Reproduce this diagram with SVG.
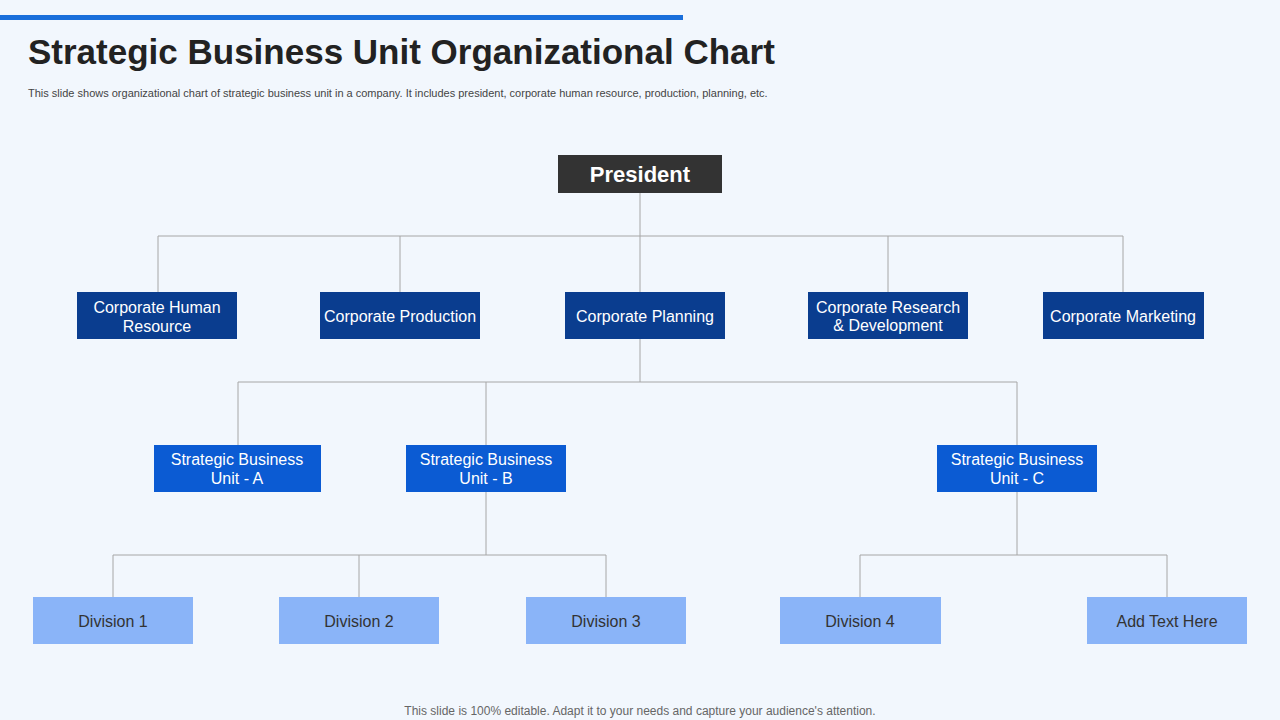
<svg xmlns="http://www.w3.org/2000/svg" width="1280" height="720" viewBox="0 0 1280 720">
<style>
.t{font-family:"Liberation Sans",Arial,sans-serif;text-anchor:middle}
.w{fill:#fff;font-size:16px}
.d{fill:#333;font-size:16px}
.c{fill:none;stroke:#a6a6a6;stroke-width:1}
</style>
<rect width="1280" height="720" fill="#f2f7fd"/>
<rect x="0" y="15" width="683" height="5" fill="#1a6fdb"/>
<text x="28" y="64" font-family="'Liberation Sans',Arial,sans-serif" font-weight="bold" font-size="35" fill="#222">Strategic Business Unit Organizational Chart</text>
<text x="28" y="97" font-family="'Liberation Sans',Arial,sans-serif" font-size="11" fill="#444">This slide shows organizational chart of strategic business unit in a company. It includes president, corporate human resource, production, planning, etc.</text>
<g id="connectors" class="c">
<path d="M640 193V292M158 292V236H1123V292M400 236V292M888 236V292"/>
<path d="M640 339V382M238 445V382H1017V445M486 382V445"/>
<path d="M486 492V555M113 597V555H606V597M359 555V597"/>
<path d="M1017 492V555M860 597V555H1167V597"/>
</g>
<g id="president"><rect x="558" y="155" width="164" height="38" fill="#333"/><text class="t" x="640" y="182" fill="#fff" font-size="22" font-weight="bold">President</text></g>
<g id="chr"><rect x="77" y="292" width="160" height="47" fill="#0a3d8f"/><text class="t w" x="157" y="313">Corporate Human</text><text class="t w" x="157" y="332">Resource</text></g>
<g id="cprod"><rect x="320" y="292" width="160" height="47" fill="#0a3d8f"/><text class="t w" x="400" y="322">Corporate Production</text></g>
<g id="cplan"><rect x="565" y="292" width="160" height="47" fill="#0a3d8f"/><text class="t w" x="645" y="322">Corporate Planning</text></g>
<g id="crd"><rect x="808" y="292" width="160" height="47" fill="#0a3d8f"/><text class="t w" x="888" y="313">Corporate Research</text><text class="t w" x="888" y="331">&amp; Development</text></g>
<g id="cmkt"><rect x="1043" y="292" width="161" height="47" fill="#0a3d8f"/><text class="t w" x="1123" y="322">Corporate Marketing</text></g>
<g id="sbua"><rect x="154" y="445" width="167" height="47" fill="#0b5bd3"/><text class="t w" x="237" y="465">Strategic Business</text><text class="t w" x="237" y="484">Unit - A</text></g>
<g id="sbub"><rect x="406" y="445" width="160" height="47" fill="#0b5bd3"/><text class="t w" x="486" y="465">Strategic Business</text><text class="t w" x="486" y="484">Unit - B</text></g>
<g id="sbuc"><rect x="937" y="445" width="160" height="47" fill="#0b5bd3"/><text class="t w" x="1017" y="465">Strategic Business</text><text class="t w" x="1017" y="484">Unit - C</text></g>
<g id="div1"><rect x="33" y="597" width="160" height="47" fill="#8ab4f8"/><text class="t d" x="113" y="627">Division 1</text></g>
<g id="div2"><rect x="279" y="597" width="160" height="47" fill="#8ab4f8"/><text class="t d" x="359" y="627">Division 2</text></g>
<g id="div3"><rect x="526" y="597" width="160" height="47" fill="#8ab4f8"/><text class="t d" x="606" y="627">Division 3</text></g>
<g id="div4"><rect x="780" y="597" width="161" height="47" fill="#8ab4f8"/><text class="t d" x="860" y="627">Division 4</text></g>
<g id="addtext"><rect x="1087" y="597" width="160" height="47" fill="#8ab4f8"/><text class="t d" x="1167" y="627">Add Text Here</text></g>
<text class="t" x="640" y="715" font-size="12" fill="#666">This slide is 100% editable. Adapt it to your needs and capture your audience's attention.</text>
</svg>
